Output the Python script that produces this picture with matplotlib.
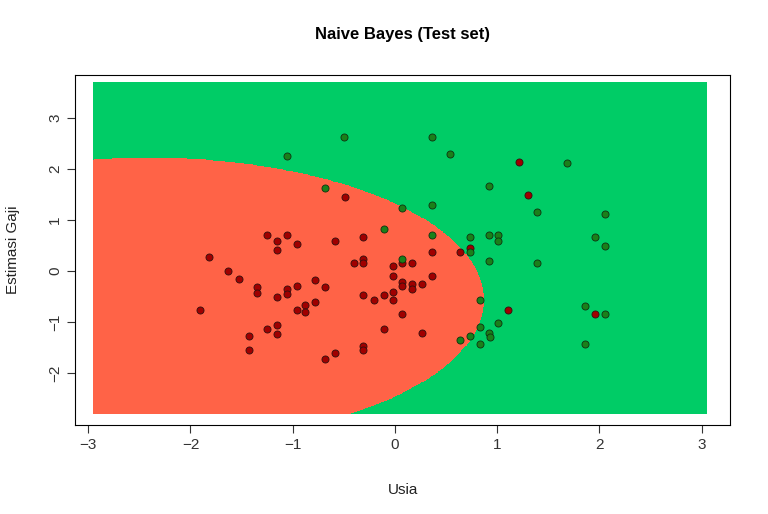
import numpy as np
import matplotlib
matplotlib.use("Agg")
import matplotlib.pyplot as plt
from matplotlib.colors import ListedColormap

plt.rcParams['font.family'] = ['Liberation Sans', 'DejaVu Sans']

red_x = [-1.25,-1.06,-1.15,-1.15,-0.96,-0.59,-0.31,-1.82,-1.63,-1.53,-1.35,-1.35,-1.15,-1.06,-1.06,-0.96,-0.78,-0.68,
         -0.31,-0.31,-0.40,-0.31,-0.21,-1.91,-0.96,-0.88,-0.88,-0.78,-1.25,-1.15,-1.15,-1.43,-1.43,-0.68,-0.59,-0.31,-0.31,
         -0.02,0.07,0.17,-0.02,0.07,0.07,0.17,0.17,0.26,0.36,0.36,-0.11,-0.02,-0.02,0.07,-0.11,0.26,0.64,0.73,1.11,1.21,-0.49,1.30,1.96]
red_y = [0.71,0.71,0.59,0.41,0.53,0.59,0.67,0.27,0.0,-0.16,-0.31,-0.43,-0.51,-0.35,-0.45,-0.29,-0.18,-0.31,
         0.24,0.16,0.16,-0.47,-0.57,-0.76,-0.76,-0.67,-0.80,-0.61,-1.14,-1.06,-1.24,-1.27,-1.55,-1.73,-1.61,-1.47,-1.55,
         0.10,0.16,0.16,-0.10,-0.22,-0.29,-0.25,-0.35,-0.25,-0.10,0.37,-0.47,-0.41,-0.57,-0.84,-1.14,-1.22,0.37,0.45,-0.76,2.14,1.45,1.49,-0.84]
green_x = [0.07,0.36,-0.11,0.36,0.73,0.92,1.01,1.01,0.73,0.92,0.07,1.39,1.39,0.83,1.01,0.83,0.73,0.92,0.93,0.83,0.64,
           -0.50,0.36,0.54,-1.06,1.68,-0.68,0.92,2.05,1.96,2.05,1.86,2.05,1.86]
green_y = [1.24,1.29,0.82,0.71,0.67,0.71,0.71,0.59,0.37,0.20,0.24,1.16,0.16,-0.57,-1.02,-1.10,-1.27,-1.22,-1.30,-1.43,-1.35,
           2.63,2.63,2.29,2.25,2.12,1.63,1.67,1.12,0.67,0.49,-0.69,-0.84,-1.43]

# decision boundary (ellipse approximation of the classifier's region)
cx, cy, ax_a, ax_b = -2.4, -0.57, 3.27, 2.79
gx = np.linspace(-2.95, 3.05, 600)
gy = np.linspace(-2.8, 3.7, 600)
X, Y = np.meshgrid(gx, gy)
Z = (((X - cx) / ax_a) ** 2 + ((Y - cy) / ax_b) ** 2 < 1).astype(int)

fig = plt.figure(figsize=(7.68, 5.14), dpi=100)
ax = fig.add_axes([0.098, 0.173, 0.853, 0.681])
ax.imshow(Z, origin='lower', extent=[-2.95, 3.05, -2.8, 3.7], aspect='auto',
          cmap=ListedColormap(['#00CC66', '#FF6347']), interpolation='nearest')
ax.scatter(red_x, red_y, s=26, c='#A00000', edgecolors='#301010', linewidths=0.6, zorder=3)
ax.scatter(green_x, green_y, s=26, c='#1A801A', edgecolors='#103010', linewidths=0.6, zorder=3)

ax.set_xlim(-3.127, 3.28)
ax.set_ylim(-3.02, 3.84)
ax.set_xticks([-3, -2, -1, 0, 1, 2, 3])
ax.set_yticks([-2, -1, 0, 1, 2, 3])
ax.tick_params(direction='out', length=6, labelsize=11, colors='#333333')
for lab in ax.get_yticklabels():
    lab.set_rotation(90)
    lab.set_va('center')
ax.set_title('Naive Bayes (Test set)', fontsize=12, fontweight='bold', pad=26)
ax.set_xlabel('Usia', fontsize=11, labelpad=22, color='#222222')
ax.set_ylabel('Estimasi Gaji', fontsize=11, labelpad=20, color='#222222')
fig.savefig('out.png', dpi=100)
